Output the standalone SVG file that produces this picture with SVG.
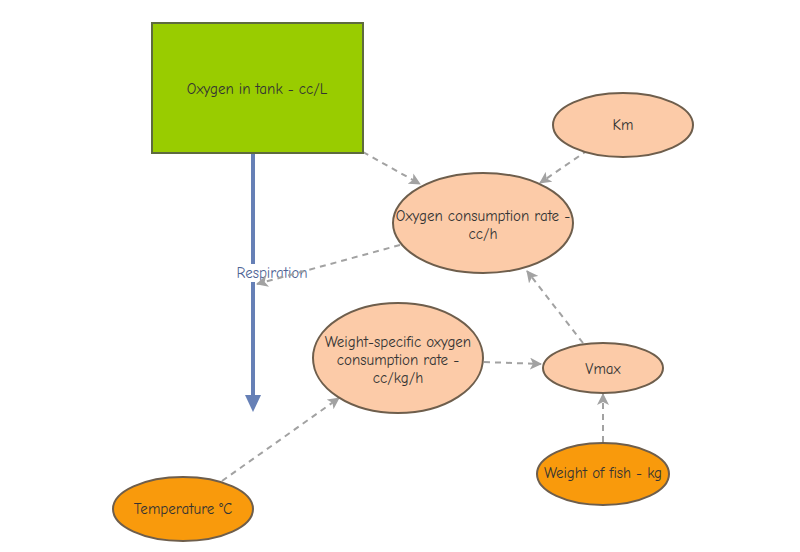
<svg xmlns="http://www.w3.org/2000/svg" width="800" height="552" viewBox="0 0 800 552">
<style>
text{font-family:"Comic Neue","Open Sans","Liberation Sans",sans-serif;font-size:15px;fill:#333;text-anchor:middle;dominant-baseline:central}
.peach{fill:#fccba8;stroke:#6e5e4c;stroke-width:2}
.orange{fill:#f99a0c;stroke:#6e5e4c;stroke-width:2}
.dash{fill:none;stroke:#a2a2a2;stroke-width:2;stroke-dasharray:6,5;marker-end:url(#ah)}
</style>
<defs>
<marker id="ah" markerWidth="12" markerHeight="12" viewBox="0 0 12 12" refX="11" refY="6" orient="auto" markerUnits="userSpaceOnUse">
<path d="M0,0 L12,6 L0,12 L3,6 Z" fill="#a2a2a2"/>
</marker>
</defs>
<rect width="800" height="552" fill="#fff"/>
<g id="respiration">
<line x1="253" y1="153" x2="253" y2="398" stroke="#6680b6" stroke-width="4"/>
<path d="M245,395 L261,395 L253,412 Z" fill="#6680b6"/>
<rect x="234" y="264" width="78" height="18" fill="#fff"/>
<text x="272" y="273" style="fill:#4e6394">Respiration</text>
</g>
<g id="connectors">
<line class="dash" x1="363" y1="152" x2="420" y2="184"/>
<line class="dash" x1="588" y1="150" x2="540" y2="183"/>
<line class="dash" x1="400" y1="245" x2="257" y2="284"/>
<line class="dash" x1="583" y1="343" x2="527" y2="271"/>
<line class="dash" x1="484" y1="362" x2="541" y2="364"/>
<line class="dash" x1="603" y1="442" x2="603" y2="394"/>
<line class="dash" x1="222" y1="481" x2="339" y2="398"/>
</g>
<g id="oxygen-in-tank">
<rect x="152" y="23" width="211" height="130" fill="#99cc00" stroke="#5e6b3e" stroke-width="2"/>
<text x="257" y="89">Oxygen in tank - cc/L</text>
</g>
<g id="km">
<ellipse class="peach" cx="623" cy="125" rx="70" ry="32"/>
<text x="623" y="125">Km</text>
</g>
<g id="oxygen-consumption">
<ellipse class="peach" cx="483" cy="223" rx="90" ry="50"/>
<text x="483" y="216">Oxygen consumption rate -</text>
<text x="483" y="234">cc/h</text>
</g>
<g id="weight-specific">
<ellipse class="peach" cx="398" cy="358" rx="85" ry="55"/>
<text x="398" y="342">Weight-specific oxygen</text>
<text x="398" y="360">consumption rate -</text>
<text x="398" y="378">cc/kg/h</text>
</g>
<g id="vmax">
<ellipse class="peach" cx="603" cy="368" rx="60" ry="25"/>
<text x="603" y="369">Vmax</text>
</g>
<g id="weight-of-fish">
<ellipse class="orange" cx="603" cy="474" rx="66" ry="31"/>
<text x="603" y="473">Weight of fish - kg</text>
</g>
<g id="temperature">
<ellipse class="orange" cx="183" cy="509" rx="70" ry="32"/>
<text x="183" y="509">Temperature °C</text>
</g>
</svg>
